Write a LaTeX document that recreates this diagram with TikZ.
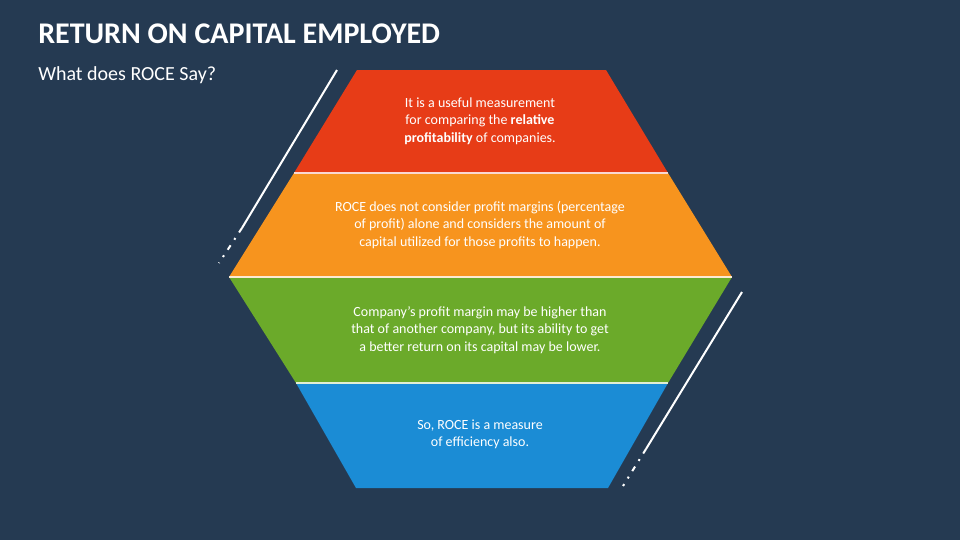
\documentclass[tikz,border=0pt]{standalone}
\usepackage{fontspec}
\setmainfont{Carlito}
\definecolor{bgblue}{HTML}{253A52}
\definecolor{tierred}{HTML}{E73C17}
\definecolor{tierorange}{HTML}{F7941E}
\definecolor{tiergreen}{HTML}{6BAA2A}
\definecolor{tierblue}{HTML}{1B8CD5}
\tikzset{
  tiertext/.style={text=white,align=center,font=\fontsize{10.5}{13}\selectfont,inner sep=0.75pt},
  edgeline/.style={white,line width=1.5pt},
  edgedots/.style={white,line width=1.5pt,dash pattern=on 4pt off 5pt on 1.5pt off 5pt}
}
\begin{document}
\begin{tikzpicture}[x=0.75pt,y=0.75pt,yscale=-1,xscale=1]
\fill[bgblue] (0,0) rectangle (960,540);
\useasboundingbox (0,0) rectangle (960,540);

%Title
\node[anchor=west,text=white,font=\bfseries\fontsize{22.5}{26}\selectfont,inner sep=0pt] (title) at (38,34) {RETURN ON CAPITAL EMPLOYED};
\node[anchor=west,text=white,font=\fontsize{15}{18}\selectfont,inner sep=0pt] (subtitle) at (38,75) {What does ROCE Say?};

%Tiers
\fill[tierred] (357,70) -- (606,70) -- (668,173) -- (294,173) -- cycle;
\fill[tierorange] (294,173) -- (668,173) -- (732,277) -- (229,277) -- cycle;
\fill[tiergreen] (229,277) -- (732,277) -- (668,383) -- (296,383) -- cycle;
\fill[tierblue] (296,383) -- (668,383) -- (608,488) -- (356,488) -- cycle;
\draw[white!80!tierred,line width=0.8pt] (294,173) -- (668,173);
\draw[white!80!tierorange,line width=0.8pt] (229,277) -- (732,277);
\draw[white!80!tiergreen,line width=0.8pt] (296,383) -- (668,383);

%Side lines
\draw[edgeline] (337,70) -- (242,228);
\draw[edgedots] (242,228) -- (219,263);
\draw[edgeline] (742,292) -- (646,449);
\draw[edgedots] (646,449) -- (623,486);

% Text Nodes
\node[tiertext] (redtext) at (480,121) {It is a useful measurement\\for comparing the \textbf{relative}\\\textbf{profitability} of companies.};
\node[tiertext] (orangetext) at (480,225) {ROCE does not consider profit margins (percentage\\of profit) alone and considers the amount of\\capital utilized for those profits to happen.};
\node[tiertext] (greentext) at (480,330) {Company’s profit margin may be higher than\\that of another company, but its ability to get\\a better return on its capital may be lower.};
\node[tiertext] (bluetext) at (480,434) {So, ROCE is a measure\\of efficiency also.};
\end{tikzpicture}
\end{document}
